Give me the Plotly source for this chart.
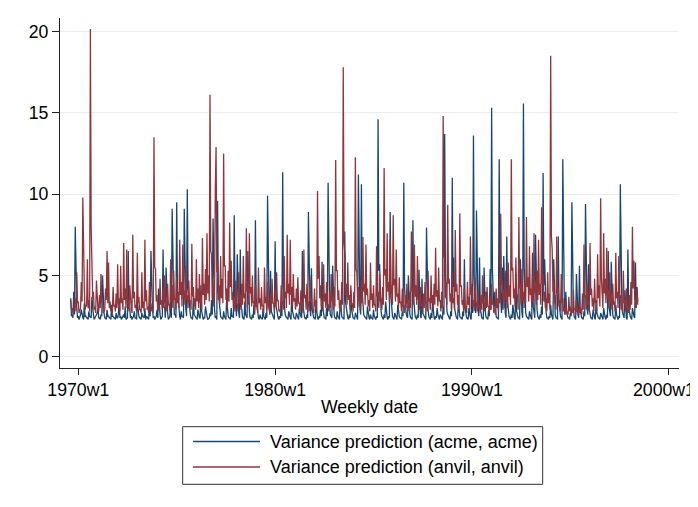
import plotly.graph_objects as go

# ---- data ----
# main samples every 4 weeks starting at Stata week 500 (1969w33),
# "mid" samples fall two weeks after each main sample
START_WEEK = 500
STEP_WEEKS = 4

acme_main = [
    3.6, 2.6, 4.0, 8.0, 3.1, 2.5, 2.4, 2.9, 2.4, 3.3, 2.5, 2.4, 2.8, 2.4, 3.7, 2.6, 2.4, 2.5, 3.0, 2.4, 2.6, 5.0, 2.7, 2.4, 2.9,
    2.5, 2.4, 3.2, 2.5, 2.4, 2.7, 2.4, 3.6, 2.5, 2.4, 2.6, 3.1, 2.4, 6.5, 3.0, 2.5, 2.4, 2.8, 2.4, 3.4, 2.5, 2.4, 2.7, 2.4, 3.0,
    2.5, 2.4, 3.3, 6.5, 3.0, 2.5, 2.4, 2.9, 4.2, 2.6, 2.4, 6.6, 3.1, 5.5, 2.7, 2.4, 3.4, 9.1, 3.6, 2.6, 9.5, 3.4, 2.5, 2.8, 2.4,
    9.1, 3.0, 10.3, 3.5, 2.6, 2.4, 3.8, 2.5, 2.4, 2.9, 2.4, 4.4, 2.6, 2.4, 3.1, 2.5, 2.4, 2.7, 3.5, 8.5, 2.9, 2.5, 9.6, 3.3, 2.5,
    2.4, 2.8, 2.4, 3.6, 2.5, 2.4, 3.0, 2.5, 8.7, 3.2, 6.3, 2.7, 6.6, 2.9, 2.4, 3.4, 2.5, 6.5, 2.8, 2.4, 2.6, 3.2, 8.4, 3.1, 2.4,
    2.6, 2.4, 3.0, 2.4, 2.7, 9.9, 3.3, 5.3, 2.6, 2.4, 7.1, 2.9, 2.4, 2.5, 3.2, 11.35, 3.4, 2.5, 2.4, 2.8, 2.4, 3.9, 2.5, 2.4, 2.7,
    2.4, 3.0, 2.5, 6.5, 2.8, 2.4, 2.6, 8.9, 3.1, 5.45, 2.6, 2.4, 3.3, 2.4, 2.5, 2.9, 5.85, 2.7, 2.4, 3.0, 10.7, 3.2, 2.5, 5.6, 2.6,
    2.4, 2.8, 2.4, 3.5, 2.5, 2.4, 7.7, 2.9, 2.4, 2.6, 4.1, 2.5, 2.4, 2.7, 2.4, 11.2, 3.0, 10.6, 3.2, 2.5, 2.4, 3.1, 2.4, 2.6, 2.4,
    2.9, 2.4, 2.5, 14.6, 5.7, 2.8, 2.4, 2.6, 3.4, 2.4, 2.5, 8.9, 3.0, 2.4, 2.7, 2.4, 3.2, 2.5, 2.4, 2.8, 10.7, 3.3, 2.5, 5.0, 2.6,
    2.4, 8.4, 2.9, 2.4, 2.6, 5.35, 2.5, 4.8, 2.6, 2.4, 7.95, 2.9, 2.4, 2.7, 3.4, 2.4, 2.5, 3.0, 2.4, 2.6, 2.4, 3.1, 13.7, 3.6, 2.6,
    2.4, 2.8, 11.0, 6.1, 2.7, 2.4, 3.3, 2.5, 2.4, 2.8, 6.0, 2.6, 2.4, 3.0, 2.4, 4.5, 13.6, 3.4, 9.0, 2.9, 6.1, 2.5, 2.4, 5.5, 2.6,
    2.4, 2.9, 5.4, 15.3, 3.3, 4.0, 2.5, 2.4, 12.15, 3.2, 5.5, 6.2, 2.7, 7.4, 2.8, 2.4, 2.6, 3.2, 2.4, 5.1, 2.5, 2.4, 6.0, 2.7, 15.57,
    3.5, 2.5, 2.4, 2.8, 2.4, 6.4, 2.6, 7.5, 2.9, 2.4, 2.6, 3.1, 11.3, 6.0, 2.7, 2.4, 2.5, 3.2, 2.4, 6.0, 2.6, 2.4, 7.4, 2.8, 2.4,
    12.15, 3.2, 4.0, 2.5, 2.4, 2.7, 9.5, 3.0, 2.4, 5.1, 2.6, 5.6, 2.5, 2.4, 2.8, 9.4, 3.1, 5.7, 2.6, 2.4, 2.9, 2.4, 3.4, 2.5, 2.4,
    2.7, 2.4, 3.0, 2.4, 2.6, 6.5, 2.8, 5.85, 2.6, 2.4, 3.2, 2.4, 2.5, 10.6, 3.3, 2.5, 4.1, 2.4, 6.6, 2.7, 2.4, 3.0, 2.5, 5.8, 4.3,
]

acme_mid = [
    2.5, 2.4, 2.6, 3.6, 2.4, 2.3, 2.6, 2.4, 2.3, 2.5, 2.4, 2.3, 2.5, 2.4, 2.6, 2.3, 2.4, 2.7, 2.4, 2.3, 2.5, 2.8, 2.4, 2.3, 2.5,
    2.4, 2.3, 2.5, 2.4, 2.3, 2.4, 2.6, 2.4, 2.3, 2.5, 2.4, 2.3, 2.4, 3.0, 2.4, 2.3, 2.5, 2.4, 2.3, 2.6, 2.4, 2.3, 2.5, 2.4, 2.3,
    2.4, 2.3, 2.5, 3.1, 2.4, 2.3, 2.5, 2.4, 2.6, 2.3, 2.5, 3.0, 2.4, 2.7, 2.3, 2.5, 2.4, 3.8, 2.6, 2.4, 4.0, 2.6, 2.3, 2.5, 2.4,
    3.9, 2.5, 4.2, 2.7, 2.4, 2.3, 2.6, 2.4, 2.3, 2.5, 2.4, 2.8, 2.3, 2.4, 2.6, 2.3, 2.4, 2.5, 2.6, 3.7, 2.4, 2.3, 4.0, 2.6, 2.4,
    2.3, 2.5, 2.3, 2.7, 2.4, 2.3, 2.5, 2.4, 3.7, 2.5, 3.0, 2.4, 3.1, 2.4, 2.3, 2.6, 2.4, 3.0, 2.4, 2.3, 2.4, 2.6, 3.6, 2.5, 2.3,
    2.4, 2.3, 2.5, 2.3, 2.4, 4.0, 2.6, 2.8, 2.4, 2.3, 3.2, 2.4, 2.3, 2.4, 2.5, 4.4, 2.7, 2.4, 2.3, 2.5, 2.3, 2.8, 2.4, 2.3, 2.5,
    2.3, 2.5, 2.4, 3.1, 2.4, 2.3, 2.4, 3.8, 2.5, 2.9, 2.4, 2.3, 2.6, 2.3, 2.4, 2.5, 3.0, 2.4, 2.3, 2.5, 4.2, 2.6, 2.4, 2.8, 2.4,
    2.3, 2.5, 2.3, 2.7, 2.4, 2.3, 3.4, 2.5, 2.3, 2.4, 2.9, 2.4, 2.3, 2.5, 2.3, 4.3, 2.6, 4.1, 2.6, 2.4, 2.3, 2.6, 2.3, 2.4, 2.3,
    2.5, 2.3, 2.4, 5.3, 3.0, 2.5, 2.3, 2.4, 2.7, 2.3, 2.4, 3.8, 2.5, 2.3, 2.5, 2.3, 2.6, 2.4, 2.3, 2.5, 4.2, 2.7, 2.4, 2.8, 2.4,
    2.3, 3.6, 2.5, 2.3, 2.4, 2.9, 2.4, 2.7, 2.4, 2.3, 3.4, 2.5, 2.3, 2.4, 2.7, 2.3, 2.4, 2.6, 2.3, 2.4, 2.3, 2.6, 5.0, 2.8, 2.4,
    2.3, 2.5, 4.3, 3.0, 2.5, 2.3, 2.6, 2.4, 2.3, 2.5, 3.0, 2.4, 2.3, 2.5, 2.3, 2.7, 5.0, 2.7, 3.8, 2.5, 3.0, 2.4, 2.3, 2.8, 2.4,
    2.3, 2.5, 2.9, 5.4, 2.7, 2.6, 2.4, 2.3, 4.5, 2.7, 2.9, 3.1, 2.4, 3.4, 2.5, 2.3, 2.4, 2.6, 2.3, 2.8, 2.4, 2.3, 3.0, 2.4, 5.6,
    2.7, 2.4, 2.3, 2.5, 2.3, 3.1, 2.4, 3.4, 2.5, 2.3, 2.4, 2.6, 4.4, 3.0, 2.4, 2.3, 2.4, 2.6, 2.3, 3.0, 2.4, 2.3, 3.4, 2.5, 2.3,
    4.5, 2.6, 2.7, 2.4, 2.3, 2.5, 3.9, 2.5, 2.3, 2.8, 2.4, 2.9, 2.4, 2.3, 2.5, 3.9, 2.6, 2.9, 2.4, 2.3, 2.5, 2.3, 2.7, 2.4, 2.3,
    2.5, 2.3, 2.6, 2.3, 2.4, 3.1, 2.5, 2.9, 2.4, 2.3, 2.6, 2.3, 2.4, 4.2, 2.7, 2.4, 2.6, 2.3, 3.1, 2.5, 2.3, 2.6, 2.4, 3.0, 3.4,
]

anvil_main = [
    3.5, 3.0, 2.7, 3.6, 5.2, 3.4, 2.8, 4.6, 9.8, 4.1, 3.2, 6.0, 3.5, 20.15, 6.2, 4.0, 3.1, 4.7, 2.9, 3.8, 5.1, 3.3, 2.8, 4.2, 6.5,
    5.8, 3.4, 2.9, 4.3, 3.2, 3.9, 5.7, 3.3, 5.6, 3.6, 7.0, 4.2, 6.6, 3.5, 4.4, 3.0, 7.5, 4.0, 3.2, 6.4, 3.7, 2.9, 5.2, 3.4, 7.2,
    4.1, 3.1, 4.6, 3.3, 2.9, 13.5, 5.4, 3.8, 3.2, 4.8, 3.5, 4.2, 5.0, 3.4, 4.5, 3.2, 6.0, 4.4, 5.3, 3.6, 4.9, 4.0, 7.2, 4.6, 6.9,
    4.1, 5.6, 3.8, 4.7, 3.5, 6.95, 4.3, 3.6, 6.0, 4.2, 5.1, 3.7, 7.3, 4.5, 5.4, 7.6, 5.0, 16.1, 6.3, 4.6, 4.0, 12.9, 5.8, 4.4, 6.2,
    4.8, 12.5, 5.6, 4.2, 5.3, 8.25, 5.9, 4.0, 3.5, 4.7, 3.3, 5.2, 3.8, 4.5, 6.2, 3.9, 7.9, 4.6, 7.6, 4.3, 5.0, 3.4, 4.4, 3.1, 5.5,
    3.6, 4.3, 3.2, 5.5, 3.7, 4.6, 3.0, 3.9, 4.8, 3.3, 4.1, 5.2, 3.5, 2.9, 4.4, 3.4, 6.2, 4.0, 7.5, 4.5, 7.2, 4.3, 5.1, 3.6, 4.2,
    4.9, 3.3, 4.1, 3.0, 6.6, 3.8, 4.5, 3.4, 5.0, 3.6, 2.9, 4.2, 3.5, 10.2, 6.2, 4.4, 3.5, 5.7, 3.9, 4.6, 3.2, 4.0, 5.1, 3.7, 4.3,
    12.1, 5.3, 4.1, 3.4, 4.6, 17.8, 6.4, 4.5, 5.8, 3.8, 4.4, 3.3, 4.0, 12.27, 5.2, 4.3, 3.6, 4.7, 7.36, 4.5, 6.9, 4.2, 3.5, 5.8, 3.9,
    4.4, 3.2, 6.8, 4.0, 5.1, 3.6, 4.3, 11.6, 5.4, 7.6, 4.6, 7.2, 4.4, 8.7, 4.8, 6.6, 3.9, 4.9, 3.4, 4.2, 3.1, 3.8, 4.5, 3.3, 4.0,
    7.7, 4.2, 6.9, 4.4, 6.2, 3.7, 4.3, 3.2, 3.9, 4.6, 3.4, 5.3, 3.6, 5.0, 3.8, 4.5, 6.7, 4.1, 5.5, 3.5, 4.0, 14.8, 6.0, 4.6, 9.35,
    4.8, 3.9, 5.2, 3.6, 7.8, 4.5, 3.8, 8.83, 4.4, 3.5, 4.2, 3.1, 4.6, 3.7, 7.4, 4.3, 3.5, 4.9, 3.4, 4.1, 3.2, 3.8, 5.0, 3.3, 4.0,
    4.3, 3.1, 3.7, 4.5, 3.4, 2.9, 4.2, 3.6, 4.8, 8.8, 4.7, 3.9, 5.3, 4.0, 5.8, 4.4, 12.15, 5.5, 4.2, 6.1, 3.8, 8.6, 4.5, 5.4, 4.0,
    4.6, 8.6, 4.9, 6.8, 4.2, 5.0, 7.6, 4.4, 5.3, 7.2, 4.5, 9.2, 5.1, 4.0, 3.6, 5.2, 3.9, 18.5, 6.6, 4.7, 3.8, 7.4, 4.3, 3.5, 5.1,
    3.6, 3.0, 3.4, 2.8, 3.7, 3.1, 2.9, 4.1, 3.0, 3.5, 2.8, 3.3, 3.0, 3.9, 6.9, 3.8, 4.5, 3.4, 7.0, 4.2, 3.6, 4.8, 3.5, 6.3, 4.4,
    9.75, 4.0, 7.6, 4.8, 6.7, 4.1, 5.2, 3.7, 4.5, 3.4, 6.4, 4.0, 6.2, 3.8, 3.3, 5.3, 3.5, 4.2, 3.1, 3.8, 4.6, 8.0, 5.9, 3.6, 4.2,
]

anvil_mid = [
    2.9, 2.7, 3.2, 2.8, 3.3, 2.7, 3.0, 3.4, 4.6, 2.9, 3.1, 3.0, 2.8, 8.0, 3.6, 2.9, 2.7, 3.2, 2.8, 3.0, 3.4, 2.7, 2.9, 3.5, 3.3,
    3.0, 2.8, 2.7, 3.1, 2.8, 3.0, 3.2, 2.8, 3.3, 2.9, 3.5, 3.0, 3.2, 2.8, 3.1, 2.7, 3.6, 3.0, 2.8, 3.3, 2.9, 2.7, 3.0, 2.8, 3.4,
    2.9, 2.7, 3.1, 2.8, 2.7, 5.5, 3.4, 2.9, 2.8, 3.2, 2.9, 3.3, 3.0, 2.8, 3.2, 2.8, 3.4, 3.0, 3.5, 2.9, 3.3, 3.0, 3.8, 3.1, 3.6,
    3.2, 3.5, 3.0, 3.3, 2.9, 3.7, 3.1, 2.9, 3.4, 3.0, 3.3, 2.9, 3.8, 3.2, 3.5, 3.9, 3.4, 6.5, 3.6, 3.1, 10.3, 5.2, 3.5, 3.2, 3.6,
    3.3, 5.6, 3.5, 3.0, 3.4, 4.3, 3.5, 3.0, 2.8, 3.2, 2.8, 3.3, 2.9, 3.2, 3.6, 3.0, 4.0, 3.2, 3.9, 3.1, 3.3, 2.8, 3.1, 2.7, 3.3,
    2.9, 3.1, 2.7, 3.3, 2.9, 3.2, 2.7, 3.0, 3.3, 2.8, 3.1, 3.4, 2.8, 2.7, 3.2, 2.9, 3.6, 3.0, 3.9, 3.2, 3.8, 3.1, 3.4, 2.9, 3.1,
    3.3, 2.8, 3.1, 2.7, 3.6, 2.9, 3.2, 2.8, 3.4, 2.9, 2.7, 3.1, 2.9, 4.8, 3.6, 3.1, 2.8, 3.4, 3.0, 3.2, 2.8, 3.0, 3.4, 2.9, 3.1,
    5.3, 3.5, 3.0, 2.8, 3.2, 7.0, 3.8, 3.2, 3.5, 2.9, 3.2, 2.8, 3.0, 5.4, 3.4, 3.1, 2.9, 3.3, 4.0, 3.2, 3.8, 3.1, 2.8, 3.5, 3.0,
    3.2, 2.8, 3.7, 3.0, 3.4, 2.9, 3.2, 5.0, 3.5, 4.0, 3.3, 3.9, 3.2, 4.4, 3.4, 3.7, 3.0, 3.3, 2.8, 3.1, 2.7, 3.0, 3.3, 2.8, 3.0,
    4.0, 3.2, 3.7, 3.2, 3.5, 2.9, 3.2, 2.7, 3.0, 3.3, 2.8, 3.4, 2.9, 3.3, 2.9, 3.2, 3.7, 3.1, 3.4, 2.8, 3.0, 6.2, 3.6, 3.2, 4.5,
    3.4, 2.9, 3.3, 2.9, 4.0, 3.2, 2.9, 4.3, 3.2, 2.8, 3.1, 2.7, 3.2, 2.9, 3.8, 3.1, 2.8, 3.3, 2.8, 3.0, 2.7, 2.9, 3.3, 2.8, 3.0,
    3.1, 2.7, 2.9, 3.2, 2.8, 2.6, 3.0, 2.8, 3.3, 4.4, 3.4, 3.0, 3.5, 3.0, 3.7, 3.2, 5.3, 3.6, 3.1, 3.8, 2.9, 4.2, 3.2, 3.5, 3.0,
    3.3, 4.3, 3.4, 3.8, 3.1, 3.4, 3.9, 3.2, 3.5, 3.8, 3.2, 4.5, 3.4, 3.0, 2.8, 3.3, 2.9, 7.4, 4.0, 3.3, 2.9, 3.9, 3.1, 2.8, 3.3,
    2.8, 2.6, 2.7, 2.6, 2.8, 2.6, 2.7, 2.9, 2.6, 2.8, 2.6, 2.7, 2.6, 2.9, 3.7, 2.9, 3.2, 2.8, 3.8, 3.1, 2.8, 3.3, 2.8, 3.6, 3.1,
    4.8, 3.0, 3.9, 3.3, 3.6, 3.0, 3.4, 2.9, 3.2, 2.8, 3.6, 3.0, 3.5, 2.9, 2.7, 3.3, 2.8, 3.1, 2.7, 2.9, 3.2, 4.2, 3.5, 3.0, 3.2,
]

XTICK_VALS = [520, 1040, 1560, 2080]
XTICK_LABELS = ["1970w1", "1980w1", "1990w1", "2000w1"]
YTICK_VALS = [0, 5, 10, 15, 20]

SERIES_NAMES = ["Variance prediction (acme, acme)", "Variance prediction (anvil, anvil)"]
NAVY = "#1a476f"
MAROON = "#90353b"


def interleave(main, mid):
    out = []
    for a, b in zip(main, mid):
        out.extend([a, b])
    return out


weeks = []
for i in range(len(acme_main)):
    weeks.extend([START_WEEK + STEP_WEEKS * i, START_WEEK + STEP_WEEKS * i + 2])
acme_var = interleave(acme_main, acme_mid)
anvil_var = interleave(anvil_main, anvil_mid)

# ---- geometry: page body has an 8px margin, so work in window pixels minus 8 ----
OFF = 8
W, H = 698 - OFF, 507 - OFF
L, R, T, B = 60 - OFF, 679 - OFF, 18 - OFF, 368 - OFF
FONT = "Arial, Liberation Sans, sans-serif"
TICK_SIZE = 17.7


def px_x(px):
    return (px - OFF - L) / (R - L)


def px_y(py):
    return (B - (py - OFF)) / (B - T)


fig = go.Figure()
fig.add_trace(go.Scatter(x=weeks, y=acme_var, mode="lines", name=SERIES_NAMES[0],
                         line=dict(color=NAVY, width=1.3), showlegend=False))
fig.add_trace(go.Scatter(x=weeks, y=anvil_var, mode="lines", name=SERIES_NAMES[1],
                         line=dict(color=MAROON, width=1.3), showlegend=False))

fig.update_layout(
    width=W, height=H,
    margin=dict(l=L, r=W - R, t=T, b=H - B, pad=0, autoexpand=False),
    paper_bgcolor="white", plot_bgcolor="white",
    font=dict(family=FONT, size=TICK_SIZE, color="black"),
)
# the last tick label sits against the right edge of the page; it is drawn
# separately (right-aligned) so that it is not clipped
fig.update_xaxes(
    range=[471.7, 2107], tickvals=XTICK_VALS, ticktext=XTICK_LABELS[:-1] + [""],
    showgrid=False, zeroline=False, showline=True, linecolor="#222", linewidth=1,
    ticks="outside", ticklen=6, tickcolor="#222", tickwidth=1,
    tickfont=dict(size=TICK_SIZE, family=FONT), ticklabelstandoff=0,
    automargin=False,
)
fig.update_yaxes(
    range=[-0.68, 20.82], tickvals=YTICK_VALS,
    showgrid=True, gridcolor="#e9eff1", gridwidth=1.2, zeroline=False,
    showline=True, linecolor="#222", linewidth=1,
    ticks="outside", ticklen=7, tickcolor="#222", tickwidth=1,
    tickfont=dict(size=TICK_SIZE, family=FONT), ticklabelstandoff=0,
    automargin=False,
)
fig.add_annotation(text=XTICK_LABELS[-1], xref="paper", yref="paper",
                   x=px_x(697), y=px_y(389.5), xanchor="right", yanchor="middle",
                   showarrow=False, font=dict(size=TICK_SIZE, family=FONT))

# axis title
fig.add_annotation(text="Weekly date", xref="paper", yref="paper",
                   x=0.5, y=px_y(407), xanchor="center", yanchor="middle",
                   showarrow=False, font=dict(size=TICK_SIZE, family=FONT))

# legend (box with line keys and labels)
fig.add_shape(type="rect", xref="paper", yref="paper",
              x0=px_x(182.7), x1=px_x(542.7), y0=px_y(484.3), y1=px_y(426.7),
              line=dict(color="#333", width=1), fillcolor="white")
for k, (name, col) in enumerate(zip(SERIES_NAMES, [NAVY, MAROON])):
    yy = 441.5 + k * 25.5
    fig.add_shape(type="line", xref="paper", yref="paper",
                  x0=px_x(193), x1=px_x(260), y0=px_y(yy), y1=px_y(yy),
                  line=dict(color=col, width=1.3))
    fig.add_annotation(text=name, xref="paper", yref="paper",
                       x=px_x(268), y=px_y(yy), xanchor="left", yanchor="middle",
                       showarrow=False, font=dict(size=18, family=FONT))

fig.write_html("out.html")
